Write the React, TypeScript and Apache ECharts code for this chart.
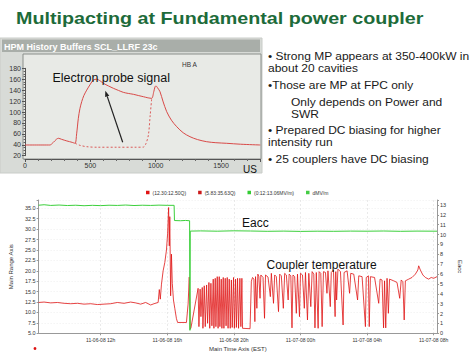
import React, { useEffect, useRef } from 'react';
import * as echarts from 'echarts';

// ---------- Top-left panel: HPM history buffer (electron probe) ----------
const probeSolidUs = [0, 190, 215, 240, 255, 280, 320, 360, 383, 395, 408, 420, 434, 450, 472, 500, 523, 548, 575, 599, 640, 676, 715, 752, 790, 829, 870, 906, 940, 969, 985, 995, 1002, 1015, 1033, 1055, 1084, 1120, 1161, 1210, 1262, 1320, 1390, 1460, 1543, 1650, 1800];
const probeSolidVal = [39.6, 39.6, 44, 50, 51.9, 50, 47, 44.5, 42.7, 60, 88.5, 106, 119, 130, 140, 151, 158.6, 160, 157, 152.6, 147.5, 143.4, 139.5, 136, 134, 132.4, 130, 128, 126, 125, 137, 146.4, 147.6, 144, 137, 120, 100.6, 85, 73, 62, 54.8, 49.5, 45.6, 43.8, 42.7, 41, 39.6];
const probeDashedUs = [383, 420, 472, 550, 700, 850, 906, 925, 944, 958, 969];
const probeDashedVal = [42.7, 39, 36.5, 35.5, 35.5, 35.5, 35.8, 42, 58, 95, 124];
const probeXTicks = [0, 500, 1000, 1500];

// ---------- Bottom chart: coupler temperature (left) and Eacc (right) ----------
const timeTicks = [12, 16, 20, 24, 28, 32];
const legendNames = ['(12.30:12.50Q)', '(5.83:35.63Q)', '(0:12:13.06MV/m)', 'dMV/m'];

const couplerTemp: [number, number][] = [
  [8.27, 12.4], [8.6, 12.5], [9.0, 12.3], [9.4, 12.4], [9.8, 12.2], [10.2, 12.1], [10.6, 12.2], [11.0, 12.0],
  [11.4, 12.1], [11.8, 11.9], [12.2, 12.0], [12.6, 12.1], [13.0, 12.4], [13.4, 12.2], [13.8, 12.5], [14.1, 12.3],
  [14.4, 12.0], [14.7, 12.4], [15.0, 11.8], [15.2, 12.1], [15.45, 12.4],
  [15.52, 15.5], [15.58, 13.2], [15.65, 16.8], [15.75, 20.0], [15.85, 22.0], [15.95, 25.0], [16.02, 29.0],
  [16.08, 35.2], [16.12, 26.0], [16.15, 33.0], [16.2, 14.0], [16.25, 24.0], [16.3, 17.0], [16.37, 13.0],
  [16.45, 11.0], [16.55, 8.5], [16.62, 7.6], [17.15, 7.6], [17.25, 12.0], [17.32, 18.5], [17.38, 6.0],
  [17.42, 6.3], [17.85, 15.8], [17.9, 6.6], [17.97, 15.6], [18.02, 9.0], [18.1, 16.0], [18.14, 6.2],
  [18.22, 16.4], [18.28, 6.6], [18.36, 16.6], [18.42, 7.4], [18.5, 17.2], [18.55, 6.2], [18.62, 17.0],
  [18.68, 6.8], [18.76, 18.0], [18.8, 6.2], [18.88, 18.2], [18.92, 6.6], [19.0, 18.6], [19.05, 6.2],
  [19.12, 18.6], [19.16, 6.6], [19.24, 18.0], [19.28, 6.2], [19.36, 18.4], [19.4, 6.2], [19.48, 18.2],
  [19.53, 6.8], [19.6, 18.4], [19.65, 6.2], [19.72, 18.0], [19.78, 6.2], [19.85, 17.8], [19.9, 6.4],
  [19.98, 18.4], [20.03, 6.2], [20.1, 18.0], [20.15, 6.4], [20.22, 18.2], [20.28, 6.2], [20.36, 18.2],
  [20.42, 6.6], [20.48, 18.2], [20.52, 6.2], [20.97, 6.1], [21.05, 17.5], [21.12, 18.4], [21.2, 18.0],
  [21.26, 7.8], [21.3, 18.6], [21.38, 11.0], [21.44, 19.2], [21.5, 18.6], [21.57, 13.4], [21.62, 19.0],
  [21.75, 18.4], [21.84, 8.6], [21.9, 19.0], [22.05, 18.5], [22.19, 13.8], [22.25, 19.4], [22.38, 12.2],
  [22.45, 19.0], [22.55, 18.6], [22.68, 10.2], [22.75, 19.2], [22.85, 18.8], [22.97, 11.0], [23.05, 19.4],
  [23.15, 19.0], [23.26, 13.0], [23.32, 19.2], [23.42, 18.8], [23.49, 6.3], [23.55, 19.0], [23.65, 18.6],
  [23.75, 9.8], [23.82, 19.2], [23.94, 9.0], [24.0, 19.4], [24.12, 19.0], [24.23, 11.0], [24.3, 19.6],
  [24.42, 8.2], [24.5, 19.4], [24.62, 11.4], [24.7, 19.8], [24.8, 19.2], [24.87, 6.3], [24.95, 19.6],
  [25.06, 6.2], [25.12, 19.8], [25.22, 19.4], [25.3, 6.6], [25.38, 19.8], [25.5, 19.6], [25.59, 14.6],
  [25.65, 20.0], [25.79, 11.4], [25.85, 19.6], [25.98, 20.2], [26.08, 9.0], [26.12, 19.8], [26.17, 13.0],
  [26.25, 20.4], [26.4, 19.8], [26.56, 7.0], [26.62, 19.6], [26.8, 20.0], [26.95, 14.6], [27.02, 19.4],
  [27.2, 19.2], [27.43, 13.0], [27.5, 18.8], [27.7, 18.6], [27.9, 6.6], [27.95, 18.4], [28.08, 18.8],
  [28.13, 6.6], [28.2, 18.6], [28.45, 18.4], [28.7, 12.2], [28.78, 18.0], [28.9, 17.8], [28.99, 6.3],
  [29.05, 17.6], [29.12, 6.3], [29.2, 18.2], [29.28, 9.8], [29.35, 18.0], [29.6, 17.6], [29.8, 17.2],
  [29.96, 13.4], [30.05, 17.8], [30.15, 17.4], [30.23, 8.2], [30.3, 17.6], [30.5, 18.0], [30.7, 18.4],
  [30.9, 19.2], [31.05, 20.2], [31.1, 21.2], [31.2, 20.2], [31.35, 19.0], [31.5, 18.4], [31.7, 18.0],
  [31.85, 18.4], [32.0, 18.2], [32.2, 18.6],
];

const eaccField: [number, number][] = [
  [8.27, 12.97], [8.6, 13.02], [9.0, 12.95], [9.5, 12.99], [10.0, 12.94], [10.5, 12.97], [11.0, 12.92],
  [11.5, 12.96], [12.0, 12.93], [12.5, 12.97], [13.0, 12.95], [13.5, 12.99], [14.0, 12.94], [14.5, 12.97],
  [15.0, 12.95], [15.5, 12.98], [16.0, 12.96], [16.41, 12.96], [16.43, 11.42], [16.8, 11.4], [17.1, 11.43],
  [17.34, 11.4], [17.36, 0.3], [17.38, 10.35], [18, 10.37], [19, 10.34], [20, 10.38], [21, 10.36],
  [22, 10.33], [23, 10.35], [24, 10.32], [25, 10.34], [26, 10.33], [27, 10.35], [28, 10.34], [29, 10.36],
  [30, 10.33], [31, 10.35], [32.2, 10.34],
];

const bullets = [
  { text: '• Strong MP appears at 350-400kW in', x: 268, base: 59 },
  { text: 'about 20 cavities', x: 268, base: 71.2 },
  { text: '•Those are MP at FPC only', x: 268, base: 88 },
  { text: 'Only depends on Power and', x: 291, base: 105.3 },
  { text: 'SWR', x: 291, base: 117.2 },
  { text: '• Prepared DC biasing for higher', x: 268, base: 133.8 },
  { text: 'intensity run', x: 268, base: 145.8 },
  { text: '• 25 couplers have DC biasing', x: 268, base: 162.5 },
];

const FONT = '"Liberation Sans", Arial, sans-serif';

function zip(xs: number[], ys: number[]) {
  return xs.map((x, i) => [x, ys[i]]);
}

function hourLabel(v: number) {
  const day = v < 24 ? '11-06-08' : '11-07-08';
  const h = Math.round(v < 24 ? v : v - 24);
  return `${day} ${h < 10 ? '0' + h : h}h`;
}

function midText(text: string, x: number, base: number, size: number, opts: any = {}) {
  return {
    type: 'text',
    x,
    y: base - 0.3 * size,
    z: 100,
    scaleX: opts.scaleX ?? 1,
    style: {
      text,
      fill: opts.color ?? '#222',
      font: `${opts.weight ?? 'normal'} ${size}px ${FONT}`,
      align: opts.align ?? 'left',
      verticalAlign: 'middle',
    },
  };
}

export default function App() {
  const ref = useRef<HTMLDivElement>(null);

  useEffect(() => {
    document.body.style.margin = '0';
    const chart = echarts.init(ref.current!, undefined, { renderer: 'svg' });

    const tipX = 105.3, tipY = 90.7, tailX = 122.7, tailY = 142.3;
    const dx = tipX - tailX, dy = tipY - tailY;
    const len = Math.hypot(dx, dy);
    const ux = dx / len, uy = dy / len;
    const bx = tipX - ux * 6, by = tipY - uy * 6;
    const px = -uy * 2.2, py = ux * 2.2;

    chart.setOption({
      animation: false,
      backgroundColor: '#ffffff',
      textStyle: { fontFamily: FONT },
      graphic: [
        midText('Multipacting at Fundamental power coupler', 16, 23.3, 17, { weight: 'bold', color: '#1d6b3a', scaleX: 1.16 }),
        { type: 'rect', z: -10, shape: { x: 0, y: 38, width: 262, height: 135 }, style: { fill: '#d8dbd7', stroke: '#c9ccc8', lineWidth: 1 } },
        { type: 'rect', z: -9, shape: { x: 2, y: 39.5, width: 258, height: 12.5 }, style: { fill: '#a9aea9' } },
        midText('HPM History Buffers SCL_LLRF 23c', 4, 49.5, 9, { weight: 'bold', color: '#ffffff' }),
        { type: 'rect', z: -8, shape: { x: 23, y: 54, width: 238, height: 105 }, style: { fill: '#e8eae6', stroke: '#8a8e8a', lineWidth: 1 } },
        midText('HB A', 182, 66, 6.5, { color: '#333' }),
        midText('Electron probe signal', 52.5, 81.5, 12.5, { color: '#111' }),
        midText('US', 243, 172, 10, { color: '#111' }),
        { type: 'line', z: 100, shape: { x1: tailX, y1: tailY, x2: bx, y2: by }, style: { stroke: '#222', lineWidth: 1.2 } },
        { type: 'polygon', z: 100, shape: { points: [[tipX, tipY], [bx + px, by + py], [bx - px, by - py]] }, style: { fill: '#222' } },
        ...bullets.map((b) => midText(b.text, b.x, b.base, 10, { color: '#1a1a1a', scaleX: 1.2 })),
        midText('Eacc', 242, 226.5, 12, { color: '#111' }),
        midText('Coupler temperature', 266.5, 269, 12, { color: '#111' }),
        { type: 'circle', z: 100, shape: { cx: 35, cy: 348.5, r: 1.4 }, style: { fill: '#dd1111' } },
      ],
      legend: {
        data: legendNames,
        left: 146,
        top: 190,
        icon: 'rect',
        itemWidth: 3.5,
        itemHeight: 3.5,
        itemGap: 12,
        textStyle: { fontSize: 5, color: '#333', padding: [0, 0, 0, -2] },
        padding: 0,
      },
      grid: [
        { left: 25, top: 68.3, width: 235.3, height: 87.4 },
        { left: 26, top: 200, right: 37, height: 133.3 },
      ],
      xAxis: [
        {
          gridIndex: 0, type: 'value', min: 0, max: 1800, interval: 500, offset: 3.3,
          axisLine: { lineStyle: { color: '#555' } },
          axisTick: { length: 3, lineStyle: { color: '#555' } },
          minorTick: { show: true, splitNumber: 5, length: 2, lineStyle: { color: '#666' } },
          axisLabel: { fontSize: 7, color: '#333', margin: 3, formatter: (v: number) => (probeXTicks.includes(v) ? String(v) : '') },
          splitLine: { show: false },
        },
        {
          gridIndex: 1, type: 'value', min: 8.27, max: 32.2,
          name: 'Main Time Axis (EST)', nameLocation: 'middle', nameGap: 13,
          nameTextStyle: { fontSize: 6, color: '#333' },
          axisLine: { lineStyle: { color: '#999' } },
          axisTick: { length: 2, lineStyle: { color: '#999' }, customValues: timeTicks },
          axisLabel: { fontSize: 5, color: '#333', margin: 4, customValues: timeTicks, formatter: (v: number) => hourLabel(v) },
          splitLine: { show: true, lineStyle: { color: '#dcdcdc', type: [2, 2], width: 0.6 } },
        },
      ],
      yAxis: [
        {
          gridIndex: 0, type: 'value', min: 20, max: 180, interval: 20, offset: 1,
          axisLine: { show: true, lineStyle: { color: '#555' } },
          axisTick: { show: true, length: 3, lineStyle: { color: '#555' } },
          minorTick: { show: true, splitNumber: 4, length: 1.5, lineStyle: { color: '#666' } },
          axisLabel: { fontSize: 7, color: '#333', margin: 3 },
          splitLine: { show: false },
        },
        {
          gridIndex: 1, type: 'value', min: 5, max: 37, interval: 2.5,
          name: 'Main Range Axis', nameLocation: 'middle', nameGap: 15,
          nameTextStyle: { fontSize: 6, color: '#333' },
          axisLine: { show: true, lineStyle: { color: '#999' } },
          axisTick: { show: true, length: 2, lineStyle: { color: '#999' } },
          axisLabel: { fontSize: 5.5, color: '#333', margin: 3, formatter: (v: number) => (v > 35.01 ? '' : v.toFixed(1)) },
          splitLine: { show: true, lineStyle: { color: '#e4e4e4', type: [1, 2], width: 0.6 } },
        },
        {
          gridIndex: 1, type: 'value', min: 0, max: 13.5, interval: 1, position: 'right',
          name: 'Eacc', nameLocation: 'middle', nameGap: 13, nameRotate: -90,
          nameTextStyle: { fontSize: 6, color: '#333' },
          axisLine: { show: true, lineStyle: { color: '#999' } },
          axisTick: { show: true, length: 2, lineStyle: { color: '#999' } },
          axisLabel: { fontSize: 5.5, color: '#333', margin: 3, formatter: (v: number) => (v > 13.01 ? '' : String(v)) },
          splitLine: { show: false },
        },
      ],
      series: [
        {
          name: 'probe', type: 'line', xAxisIndex: 0, yAxisIndex: 0, showSymbol: false, symbol: 'none',
          data: zip(probeSolidUs, probeSolidVal), smooth: 0.3,
          lineStyle: { color: '#d94a48', width: 1 },
        },
        {
          name: 'probeDashed', type: 'line', xAxisIndex: 0, yAxisIndex: 0, symbol: 'none',
          data: zip(probeDashedUs, probeDashedVal), smooth: 0.3,
          lineStyle: { color: '#d94a48', width: 0.9, type: [2, 2] },
        },
        {
          name: legendNames[0], type: 'line', xAxisIndex: 1, yAxisIndex: 1, symbol: 'none',
          data: couplerTemp, itemStyle: { color: '#e01414' },
          lineStyle: { color: '#e01414', width: 0.8 },
        },
        {
          name: legendNames[1], type: 'line', xAxisIndex: 1, yAxisIndex: 1, symbol: 'none',
          data: [], itemStyle: { color: '#cc1a1a' },
        },
        {
          name: legendNames[2], type: 'line', xAxisIndex: 1, yAxisIndex: 2, symbol: 'none',
          data: eaccField, itemStyle: { color: '#33cc33' },
          lineStyle: { color: '#3ccf3c', width: 1 },
        },
        {
          name: legendNames[3], type: 'line', xAxisIndex: 1, yAxisIndex: 2, symbol: 'none',
          data: [], itemStyle: { color: '#44cc44' },
        },
      ],
    });

    return () => chart.dispose();
  }, []);

  return <div ref={ref} style={{ width: 474, height: 355 }} />;
}
